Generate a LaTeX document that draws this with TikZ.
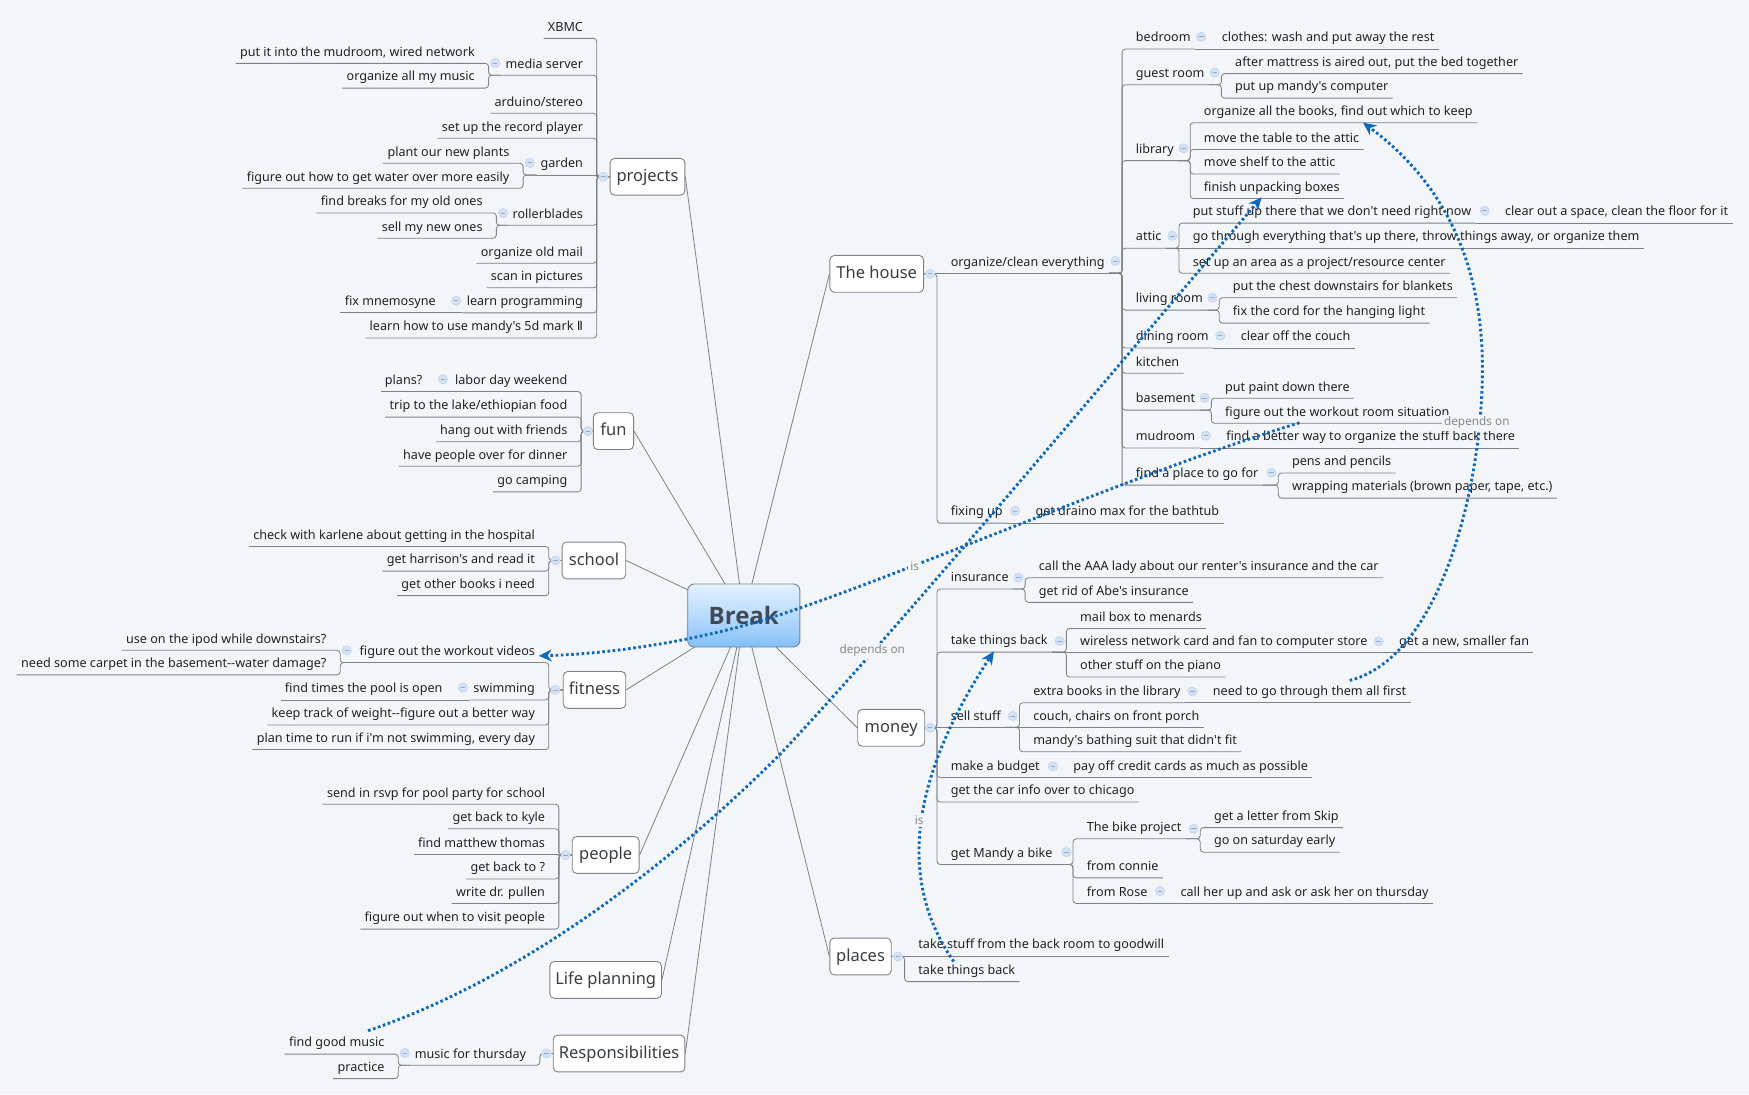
\documentclass[tikz,border=0pt]{standalone}
\usepackage{fontspec}
\setmainfont{Noto Sans}[Ligatures=TeXOff]
\newfontfamily\brkf{Open Sans}[Ligatures=TeXOff]
\newfontfamily\symf{DejaVu Sans}
\usetikzlibrary{arrows.meta}
\definecolor{bgc}{HTML}{F3F5F9}
\definecolor{lnc}{HTML}{7D8289}
\definecolor{txc}{HTML}{1E2226}
\definecolor{tpc}{HTML}{383D42}
\definecolor{rel}{HTML}{0B68BE}
\definecolor{lblc}{HTML}{85898E}
\definecolor{icf}{HTML}{D5E2F4}
\definecolor{icd}{HTML}{BFD3EE}
\definecolor{icm}{HTML}{93ABCF}
\definecolor{brkT}{HTML}{E2F1FF}
\definecolor{brkM}{HTML}{B9DBFD}
\definecolor{brkB}{HTML}{84BFF8}
\definecolor{brkX}{HTML}{3E4A56}
\tikzset{
 tx/.style={font=\fontsize{6.3}{7}\selectfont,text=txc,inner xsep=2pt,inner ysep=0pt,text height=5.4pt,text depth=3.4pt},
 rn/.style={tx,anchor=south west,execute at begin node={\kern4.7pt}},
 ln/.style={tx,anchor=south east,execute at end node={\kern4.7pt}},
 lnk/.style={draw=lnc,line width=0.42pt,rounded corners=1.6pt},
 rootlnk/.style={draw=lnc,line width=0.4pt},
 topic/.style={draw=lnc,fill=white,line width=0.45pt,rounded corners=2.2pt,inner sep=0pt,text=tpc,text height=5.2pt,text depth=0.4pt,font=\fontsize{8.25}{10}\selectfont},
 ico/.style={circle,fill=icf,draw=icd,line width=0.3pt,inner sep=0pt,minimum size=4.6pt,
   path picture={\draw[icm,line width=0.35pt] ([xshift=-1.1pt]path picture bounding box.center) -- ([xshift=1.1pt]path picture bounding box.center);}},
 relline/.style={draw=rel,line width=1.45pt,dash pattern=on 1.3pt off 1.3pt},
 reltip/.style={-{Stealth[length=6.5pt,width=6pt]}},
 rlab/.style={font=\fontsize{5.9}{7}\selectfont,text=lblc,fill=bgc,inner sep=1pt},
}
\newcommand\rg[4]{\node[rn] (#1) at (#2,#3) {#4};}
\newcommand\lf[4]{\node[ln] (#1) at (#2,#3) {#4};}
\newcommand\tp[6]{\node[topic,minimum width=#4*0.5577pt,minimum height=#5*0.5577pt] (#1) at (#2,#3) {#6};}
\def\firstof#1,#2\relax{#1}
% one connector: parent anchor, junction, child end; straight when child sits on the parent's line
\newcommand\onelink[3]{%
 \path (#2); \pgfgetlastxy{\jx}{\jy}%
 \path (#3); \pgfgetlastxy{\kx}{\ky}%
 \pgfmathparse{abs(\jy-\ky)<2.0?1:0}%
 \ifnum\pgfmathresult=1 \draw[lnk,sharp corners] (#1) -- (#2) |- (#3);
 \else \draw[lnk] (#1) -- (#2) |- (#3);\fi}
% parent, anchor, icon y offset, children
\newcommand\kidsR[4]{\edef\fc{\firstof#4,\relax}%
 \coordinate (#1-j) at (#1.#2 -| \fc.south west);
 \foreach \kid in {#4}{\onelink{#1.#2}{#1-j}{\kid.south east}}
 \node[ico] (#1-i) at ([shift={(-6,#3)}]#1-j) {};}
\newcommand\kidsL[4]{\edef\fc{\firstof#4,\relax}%
 \coordinate (#1-j) at (#1.#2 -| \fc.south east);
 \foreach \kid in {#4}{\onelink{#1.#2}{#1-j}{\kid.south west}}
 \node[ico] (#1-i) at ([shift={(6,#3)}]#1-j) {};}
\begin{document}
\begin{tikzpicture}[x=0.5577pt,y=-0.5577pt]
\useasboundingbox[fill=bgc] (0,0) rectangle (1568,981);
% central topic
\node[draw=lnc,line width=0.45pt,rounded corners=3.2pt,top color=brkT,bottom color=brkB,middle color=brkM,minimum width=100.5*0.5577pt,minimum height=56.5*0.5577pt,inner sep=0pt,text=brkX,font=\brkf\bfseries\fontsize{12}{14}\selectfont] (Break) at (666.8,551.8) {Break};
% main topics
\tp{projects}{580.5}{158.5}{67}{33}{projects}
\tp{house}{786}{245.5}{84}{33}{The house}
\tp{fun}{550}{386.5}{36}{33}{fun}
\tp{school}{532.5}{502.5}{57}{33}{school}
\tp{fitness}{533}{618.5}{56}{33}{fitness}
\tp{people}{543}{766.5}{60}{33}{people}
\tp{life}{543}{878.5}{100}{33}{Life planning}
\tp{resp}{555}{944.5}{118}{33}{Responsibilities}
\tp{places}{771.5}{857.5}{55}{33}{places}
\tp{money}{799}{652.5}{60}{33}{money}
% root links
\coordinate (b1) at (663,523.5);\coordinate (b2) at (674,523.5);\coordinate (b3) at (650,523.5);
\coordinate (b4) at (617,529);\coordinate (b5) at (623,580);\coordinate (b6) at (655,580);
\coordinate (b7) at (660.7,580);\coordinate (b8) at (663,580);\coordinate (b9) at (674,580);\coordinate (b10) at (695.6,580);
\draw[rootlnk] (b1)--(projects.east);\draw[rootlnk] (b2)--(house.west);\draw[rootlnk] (b3)--(fun.east);
\draw[rootlnk] (b4)--(school.east);\draw[rootlnk] (b5)--(fitness.east);\draw[rootlnk] (b6)--(people.east);
\draw[rootlnk] (b7)--(life.east);\draw[rootlnk] (b8)--(resp.east);\draw[rootlnk] (b9)--(places.west);\draw[rootlnk] (b10)--(money.west);
% projects
\lf{xbmc}{535}{34.4}{XBMC}
\lf{media}{535}{67.5}{media server}
\lf{arduino}{535}{101.6}{arduino/stereo}
\lf{record}{535}{124}{set up the record player}
\lf{garden}{535}{157}{garden}
\lf{roller}{535}{202}{rollerblades}
\lf{mail}{535}{236}{organize old mail}
\lf{scan}{535}{258}{scan in pictures}
\lf{prog}{535}{280.5}{learn programming}
\lf{mark}{535}{303}{learn how to use mandy's 5d mark {\symf Ⅱ}}
\kidsL{projects}{west}{0}{xbmc,media,arduino,record,garden,roller,mail,scan,prog,mark}
\lf{mudnet}{438}{56.8}{put it into the mudroom, wired network}
\lf{music}{438}{79}{organize all my music}
\kidsL{media}{south west}{-11}{mudnet,music}
\lf{plants}{469}{146.4}{plant our new plants}
\lf{water}{469}{168.8}{figure out how to get water over more easily}
\kidsL{garden}{south west}{-11}{plants,water}
\lf{breaks}{445}{191}{find breaks for my old ones}
\lf{sell}{445}{213.6}{sell my new ones}
\kidsL{roller}{south west}{-11}{breaks,sell}
\lf{mnemo}{403}{280.5}{fix mnemosyne}
\kidsL{prog}{south west}{-11}{mnemo}
% fun
\lf{labor}{521}{351}{labor day weekend}
\lf{trip}{521}{374}{trip to the lake/ethiopian food}
\lf{friends}{521}{396}{hang out with friends}
\lf{dinner}{521}{418}{have people over for dinner}
\lf{camping}{521}{441}{go camping}
\kidsL{fun}{west}{0}{labor,trip,friends,dinner,camping}
\lf{plansq}{391}{351}{plans?}
\kidsL{labor}{south west}{-11}{plansq}
% school
\lf{karlene}{492}{490}{check with karlene about getting in the hospital}
\lf{harrison}{492}{512}{get harrison's and read it}
\lf{books}{492}{534}{get other books i need}
\kidsL{school}{west}{0}{karlene,harrison,books}
% fitness
\lf{videos}{492}{594}{figure out the workout videos}
\lf{swim}{492}{627.5}{swimming}
\lf{weight}{492}{650}{keep track of weight--figure out a better way}
\lf{runplan}{492}{672}{plan time to run if i'm not swimming, every day}
\kidsL{fitness}{west}{0}{videos,swim,weight,runplan}
\lf{ipod}{305}{583}{use on the ipod while downstairs?}
\lf{carpet}{305}{605}{need some carpet in the basement--water damage?}
\kidsL{videos}{south west}{-11}{ipod,carpet}
\lf{pool}{409}{627.5}{find times the pool is open}
\kidsL{swim}{south west}{-11}{pool}
% people
\lf{rsvp}{501}{721}{send in rsvp for pool party for school}
\lf{kyle}{501}{743}{get back to kyle}
\lf{matthew}{501}{766}{find matthew thomas}
\lf{backq}{501}{788}{get back to ?}
\lf{pullen}{501}{810}{write dr. pullen}
\lf{visit}{501}{833}{figure out when to visit people}
\kidsL{people}{west}{0}{rsvp,kyle,matthew,backq,pullen,visit}
% responsibilities
\lf{thursday}{484}{955}{music for thursday}
\kidsL{resp}{west}{0}{thursday}
\lf{goodmusic}{357}{945}{find good music}
\lf{practice}{357}{967}{practice}
\kidsL{thursday}{south west}{-11}{goodmusic,practice}
% the house
\rg{organize}{840}{245}{organize/clean everything}
\rg{fixing}{840}{469}{fixing up}
\kidsR{house}{east}{0}{organize,fixing}
\rg{bedroom}{1006}{44}{bedroom}
\rg{guest}{1006}{76}{guest room}
\rg{library}{1006}{144}{library}
\rg{attic}{1006}{222.5}{attic}
\rg{living}{1006}{278}{living room}
\rg{dining}{1006}{312}{dining room}
\rg{kitchen}{1006}{334.6}{kitchen}
\rg{basement}{1006}{367.7}{basement}
\rg{mudroom}{1006}{401.6}{mudroom}
\rg{findplace}{1006}{434.9}{find a place to go for}
\kidsR{organize}{south east}{-11}{bedroom,guest,library,attic,living,dining,kitchen,basement,mudroom,findplace}
\rg{clothes}{1083}{44}{clothes: wash and put away the rest}
\kidsR{bedroom}{south east}{-11}{clothes}
\rg{mattress}{1095}{66}{after mattress is aired out, put the bed together}
\rg{mandypc}{1095}{88}{put up mandy's computer}
\kidsR{guest}{south east}{-11}{mattress,mandypc}
\rg{allbooks}{1067}{110}{organize all the books, find out which to keep}
\rg{table}{1067}{134}{move the table to the attic}
\rg{shelf}{1067}{156}{move shelf to the attic}
\rg{unpack}{1067}{178}{finish unpacking boxes}
\kidsR{library}{south east}{-11}{allbooks,table,shelf,unpack}
\rg{stuffup}{1057}{200}{put stuff up there that we don't need right now}
\rg{through}{1057}{222.5}{go through everything that's up there, throw things away, or organize them}
\rg{area}{1057}{245}{set up an area as a project/resource center}
\kidsR{attic}{south east}{-11}{stuffup,through,area}
\rg{clearout}{1337}{200}{clear out a space, clean the floor for it}
\kidsR{stuffup}{south east}{-11}{clearout}
\rg{chest}{1093}{267}{put the chest downstairs for blankets}
\rg{cord}{1093}{289.7}{fix the cord for the hanging light}
\kidsR{living}{south east}{-11}{chest,cord}
\rg{couch}{1100}{312}{clear off the couch}
\kidsR{dining}{south east}{-11}{couch}
\rg{paint}{1086}{357}{put paint down there}
\rg{workroom}{1086}{379.5}{figure out the workout room situation}
\kidsR{basement}{south east}{-11}{paint,workroom}
\rg{betterway}{1087}{401.6}{find a better way to organize the stuff back there}
\kidsR{mudroom}{south east}{-11}{betterway}
\rg{pens}{1146}{424}{pens and pencils}
\rg{wrapping}{1146}{446.6}{wrapping materials (brown paper, tape, etc.)}
\kidsR{findplace}{south east}{-11}{pens,wrapping}
\rg{draino}{916}{469}{get draino max for the bathtub}
\kidsR{fixing}{south east}{-11}{draino}
% money
\rg{insurance}{840}{528}{insurance}
\rg{takeback}{840}{584.6}{take things back}
\rg{sellstuff}{840}{652}{sell stuff}
\rg{budget}{840}{697}{make a budget}
\rg{carinfo}{840}{719}{get the car info over to chicago}
\rg{bike}{840}{775}{get Mandy a bike}
\kidsR{money}{east}{0}{insurance,takeback,sellstuff,budget,carinfo,bike}
\rg{aaa}{919}{518}{call the AAA lady about our renter's insurance and the car}
\rg{abe}{919}{540}{get rid of Abe's insurance}
\kidsR{insurance}{south east}{-10}{aaa,abe}
\rg{menards}{956}{563.5}{mail box to menards}
\rg{wireless}{956}{585}{wireless network card and fan to computer store}
\rg{piano}{956}{607}{other stuff on the piano}
\kidsR{takeback}{south east}{-10}{menards,wireless,piano}
\rg{fan}{1242}{585}{get a new, smaller fan}
\kidsR{wireless}{south east}{-10}{fan}
\rg{extra}{914}{630}{extra books in the library}
\rg{chairs}{914}{652}{couch, chairs on front porch}
\rg{suit}{914}{674}{mandy's bathing suit that didn't fit}
\kidsR{sellstuff}{south east}{-10}{extra,chairs,suit}
\rg{needgo}{1075}{630}{need to go through them all first}
\kidsR{extra}{south east}{-10}{needgo}
\rg{credit}{950}{697}{pay off credit cards as much as possible}
\kidsR{budget}{south east}{-10}{credit}
\rg{bikeproj}{962}{752}{The bike project}
\rg{connie}{962}{787}{from connie}
\rg{rose}{962}{810}{from Rose}
\kidsR{bike}{south east}{-11}{bikeproj,connie,rose}
\rg{skip}{1076}{742}{get a letter from Skip}
\rg{saturday}{1076}{764}{go on saturday early}
\kidsR{bikeproj}{south east}{-9}{skip,saturday}
\rg{callher}{1046}{810}{call her up and ask or ask her on thursday}
\kidsR{rose}{south east}{-11}{callher}
% places
\rg{goodwill}{811}{857}{take stuff from the back room to goodwill}
\rg{placesback}{811}{880}{take things back}
\kidsR{places}{east}{0}{goodwill,placesback}
% relationships
\coordinate (r1a) at (330,924);\coordinate (r1b) at (697.6,678);\coordinate (r1c) at (1131,177);
\coordinate (r2a) at (1165,379);\coordinate (r2b) at (684,556);\coordinate (r2c) at (483,588);
\coordinate (r3a) at (1210,610);\coordinate (r3b) at (1329,330);\coordinate (r3c) at (1222,110);
\coordinate (r4a) at (855,862);\coordinate (r4c) at (891,584);
\draw[relline,reltip] (r1a) .. controls (460,880) and (590,785) .. (r1b) .. controls (800,570) and (1000,330) .. (r1c);
\draw[relline,reltip] (r2a) .. controls (1000,430) and (800,520) .. (r2b) .. controls (620,575) and (550,586) .. (r2c);
\draw[relline,reltip] (r3a) .. controls (1290,590) and (1329,440) .. (r3b) .. controls (1329,230) and (1290,160) .. (r3c);
\draw[relline,reltip] (r4a) .. controls (805,790) and (815,700) .. (r4c);
\node[rlab] (l1) at (782,583.5) {depends on};
\node[rlab] (l2) at (820,508) {is};
\node[rlab] (l3) at (1324,379) {depends on};
\node[rlab] (l4) at (824,735.5) {is};
\end{tikzpicture}
\end{document}
